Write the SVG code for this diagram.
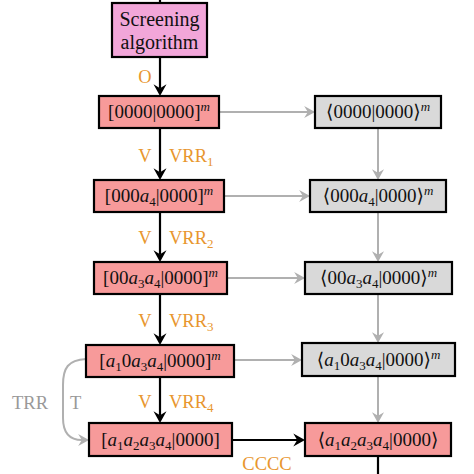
<svg xmlns="http://www.w3.org/2000/svg" width="474" height="474" viewBox="0 0 474 474">
<g id="connectors">
<g stroke="#000" stroke-width="2.2" fill="none">
<line x1="160" y1="0" x2="160" y2="3"/>
<line x1="160" y1="57" x2="160" y2="88"/>
<line x1="160" y1="128" x2="160" y2="172"/>
<line x1="160" y1="212" x2="160" y2="254"/>
<line x1="160" y1="294" x2="160" y2="337"/>
<line x1="160" y1="377" x2="160" y2="415"/>
<line x1="232" y1="440" x2="297" y2="440"/>
<line x1="378" y1="456" x2="378" y2="474"/>
</g>
<g fill="#000">
<polygon points="153.5,84.3 160,96 166.5,84.3 160,88.2"/>
<polygon points="153.5,168.3 160,180 166.5,168.3 160,172.2"/>
<polygon points="153.5,250.3 160,262 166.5,250.3 160,254.2"/>
<polygon points="153.5,333.3 160,345 166.5,333.3 160,337.2"/>
<polygon points="153.5,411.3 160,423 166.5,411.3 160,415.2"/>
<polygon points="293.3,433.5 305,440 293.3,446.5 297.2,440"/>
</g>
<g stroke="#b0b0b0" stroke-width="2" fill="none">
<line x1="219" y1="112" x2="308" y2="112"/>
<line x1="224" y1="196" x2="303" y2="196"/>
<line x1="227" y1="278" x2="298" y2="278"/>
<line x1="234" y1="360" x2="295" y2="360"/>
<line x1="378" y1="128" x2="378" y2="173"/>
<line x1="378" y1="212" x2="378" y2="255"/>
<line x1="378" y1="294" x2="378" y2="336"/>
<line x1="378" y1="376" x2="378" y2="416"/>
<path d="M86,359 C68,360 63,368 63,385 L63,418 C63,434 70,440 82,440"/>
</g>
<g fill="#b0b0b0">
<polygon points="304.2,106 315,112 304.2,118 307.8,112"/>
<polygon points="299.2,190 310,196 299.2,202 302.8,196"/>
<polygon points="294.2,272 305,278 294.2,284 297.8,278"/>
<polygon points="291.2,354 302,360 291.2,366 294.8,360"/>
<polygon points="372,169.2 378,180 384,169.2 378,172.8"/>
<polygon points="372,251.2 378,262 384,251.2 378,254.8"/>
<polygon points="372,332.2 378,343 384,332.2 378,335.8"/>
<polygon points="372,412.2 378,423 384,412.2 378,415.8"/>
<polygon points="78.2,434 89,440 78.2,446 81.8,440"/>
</g>
<g font-family="Liberation Serif" font-size="18.5" fill="#e8962e">
<text x="145" y="83" text-anchor="middle">O</text>
<text x="145" y="162" text-anchor="middle">V</text>
<text x="169" y="162">VRR<tspan font-size="13" dy="4">1</tspan></text>
<text x="145" y="244" text-anchor="middle">V</text>
<text x="169" y="244">VRR<tspan font-size="13" dy="4">2</tspan></text>
<text x="145" y="327" text-anchor="middle">V</text>
<text x="169" y="327">VRR<tspan font-size="13" dy="4">3</tspan></text>
<text x="145" y="408" text-anchor="middle">V</text>
<text x="169" y="408">VRR<tspan font-size="13" dy="4">4</tspan></text>
<text x="267" y="470" text-anchor="middle">CCCC</text>
<text x="12" y="409" fill="#999">TRR</text>
<text x="70" y="409" fill="#999">T</text>
</g>
</g>
<g stroke="#000" stroke-width="2.2">
<g id="screening">
<rect fill="#f2a6d9" x="112" y="3" width="95" height="54"/>
<text font-family="Liberation Serif" font-size="20" fill="#111" stroke="none" text-anchor="middle" x="159.5" y="26">Screening</text>
<text font-family="Liberation Serif" font-size="20" fill="#111" stroke="none" text-anchor="middle" x="159.5" y="49">algorithm</text>
</g>
<g id="L1">
<rect fill="#f79a9a" x="99" y="96" width="120" height="32"/>
<text font-family="Liberation Serif" font-size="19" fill="#111" stroke="none" text-anchor="middle" x="159" y="118">[0000|0000]<tspan font-size="13" font-style="italic" dy="-7">m</tspan></text>
</g>
<g id="L2">
<rect fill="#f79a9a" x="94" y="180" width="130" height="32"/>
<text font-family="Liberation Serif" font-size="19" fill="#111" stroke="none" text-anchor="middle" x="159" y="202">[000<tspan font-style="italic">a</tspan><tspan font-size="13" dy="4">4</tspan><tspan dy="-4">|0000]</tspan><tspan font-size="13" font-style="italic" dy="-7">m</tspan></text>
</g>
<g id="L3">
<rect fill="#f79a9a" x="94" y="262" width="133" height="32"/>
<text font-family="Liberation Serif" font-size="19" fill="#111" stroke="none" text-anchor="middle" x="160.5" y="284">[00<tspan font-style="italic">a</tspan><tspan font-size="13" dy="4">3</tspan><tspan font-style="italic" dy="-4">a</tspan><tspan font-size="13" dy="4">4</tspan><tspan dy="-4">|0000]</tspan><tspan font-size="13" font-style="italic" dy="-7">m</tspan></text>
</g>
<g id="L4">
<rect fill="#f79a9a" x="86" y="345" width="148" height="32"/>
<text font-family="Liberation Serif" font-size="19" fill="#111" stroke="none" text-anchor="middle" x="160" y="367">[<tspan font-style="italic">a</tspan><tspan font-size="13" dy="4">1</tspan><tspan dy="-4">0</tspan><tspan font-style="italic">a</tspan><tspan font-size="13" dy="4">3</tspan><tspan font-style="italic" dy="-4">a</tspan><tspan font-size="13" dy="4">4</tspan><tspan dy="-4">|0000]</tspan><tspan font-size="13" font-style="italic" dy="-7">m</tspan></text>
</g>
<g id="L5">
<rect fill="#f79a9a" x="89" y="423" width="143" height="33"/>
<text font-family="Liberation Serif" font-size="19" fill="#111" stroke="none" text-anchor="middle" x="160.5" y="446">[<tspan font-style="italic">a</tspan><tspan font-size="13" dy="4">1</tspan><tspan font-style="italic" dy="-4">a</tspan><tspan font-size="13" dy="4">2</tspan><tspan font-style="italic" dy="-4">a</tspan><tspan font-size="13" dy="4">3</tspan><tspan font-style="italic" dy="-4">a</tspan><tspan font-size="13" dy="4">4</tspan><tspan dy="-4">|0000]</tspan></text>
</g>
<g id="R1">
<rect fill="#d9d9d9" x="315" y="96" width="126" height="32"/>
<text font-family="Liberation Serif" font-size="19" fill="#111" stroke="none" text-anchor="middle" x="378" y="118"><tspan font-family="DejaVu Sans">⟨</tspan>0000|0000<tspan font-family="DejaVu Sans">⟩</tspan><tspan font-size="13" font-style="italic" dy="-7">m</tspan></text>
</g>
<g id="R2">
<rect fill="#d9d9d9" x="310" y="180" width="136" height="32"/>
<text font-family="Liberation Serif" font-size="19" fill="#111" stroke="none" text-anchor="middle" x="378" y="202"><tspan font-family="DejaVu Sans">⟨</tspan>000<tspan font-style="italic">a</tspan><tspan font-size="13" dy="4">4</tspan><tspan dy="-4">|0000</tspan><tspan font-family="DejaVu Sans">⟩</tspan><tspan font-size="13" font-style="italic" dy="-7">m</tspan></text>
</g>
<g id="R3">
<rect fill="#d9d9d9" x="305" y="262" width="147" height="32"/>
<text font-family="Liberation Serif" font-size="19" fill="#111" stroke="none" text-anchor="middle" x="378.5" y="284"><tspan font-family="DejaVu Sans">⟨</tspan>00<tspan font-style="italic">a</tspan><tspan font-size="13" dy="4">3</tspan><tspan font-style="italic" dy="-4">a</tspan><tspan font-size="13" dy="4">4</tspan><tspan dy="-4">|0000</tspan><tspan font-family="DejaVu Sans">⟩</tspan><tspan font-size="13" font-style="italic" dy="-7">m</tspan></text>
</g>
<g id="R4">
<rect fill="#d9d9d9" x="302" y="343" width="153" height="33"/>
<text font-family="Liberation Serif" font-size="19" fill="#111" stroke="none" text-anchor="middle" x="378.5" y="366"><tspan font-family="DejaVu Sans">⟨</tspan><tspan font-style="italic">a</tspan><tspan font-size="13" dy="4">1</tspan><tspan dy="-4">0</tspan><tspan font-style="italic">a</tspan><tspan font-size="13" dy="4">3</tspan><tspan font-style="italic" dy="-4">a</tspan><tspan font-size="13" dy="4">4</tspan><tspan dy="-4">|0000</tspan><tspan font-family="DejaVu Sans">⟩</tspan><tspan font-size="13" font-style="italic" dy="-7">m</tspan></text>
</g>
<g id="R5">
<rect fill="#f79a9a" x="305" y="423" width="146" height="33"/>
<text font-family="Liberation Serif" font-size="19" fill="#111" stroke="none" text-anchor="middle" x="378" y="446"><tspan font-family="DejaVu Sans">⟨</tspan><tspan font-style="italic">a</tspan><tspan font-size="13" dy="4">1</tspan><tspan font-style="italic" dy="-4">a</tspan><tspan font-size="13" dy="4">2</tspan><tspan font-style="italic" dy="-4">a</tspan><tspan font-size="13" dy="4">3</tspan><tspan font-style="italic" dy="-4">a</tspan><tspan font-size="13" dy="4">4</tspan><tspan dy="-4">|0000</tspan><tspan font-family="DejaVu Sans">⟩</tspan></text>
</g>
</g>
</svg>
